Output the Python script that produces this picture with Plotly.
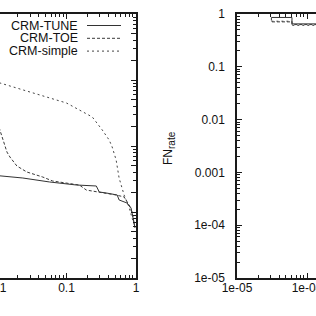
import plotly.graph_objects as go

# ---------------- data ----------------
tune_x = [0.00572, 0.01104, 0.02352, 0.05719, 0.139, 0.2683, 0.296, 0.3728, 0.5356, 0.5715, 0.7434, 0.8484, 0.9061, 0.936, 0.9676]
tune_y = [0.003767, 0.003512, 0.003273, 0.002849, 0.002564, 0.002478, 0.002010, 0.001941, 0.001811, 0.001521, 0.001368, 0.001150, 0.000811, 0.000680, 0.000573]

toe_x = [0.00968, 0.01104, 0.01218, 0.0139, 0.01534, 0.0193, 0.0268, 0.0454, 0.0631, 0.1, 0.1534, 0.193, 0.296, 0.5179, 0.6742, 0.7943, 0.877, 0.936, 0.9676]
toe_y = [0.0266, 0.0175, 0.0123, 0.0081, 0.00681, 0.00498, 0.00404, 0.00339, 0.00295, 0.00275, 0.00256, 0.00215, 0.00201, 0.00181, 0.00169, 0.00128, 0.001, 0.00068, 0.000573]

simple_x = [0.00572, 0.01104, 0.03268, 0.1, 0.1534, 0.235, 0.3268, 0.4115, 0.454, 0.5179, 0.5715, 0.6742, 0.7943, 0.877, 0.9676]
simple_y = [0.111, 0.0901, 0.0636, 0.0448, 0.0351, 0.0275, 0.0175, 0.0123, 0.00966, 0.00614, 0.00327, 0.00181, 0.00119, 0.00081, 0.000614]

r_tune_x = [3.1e-5, 6.1e-5, 6.1e-5, 2e-4]
r_tune_y = [0.86, 0.86, 0.65, 0.65]
r_toe_x = [3.1e-5, 3.1e-5, 6.1e-5, 6.1e-5, 2e-4]
r_toe_y = [0.86, 0.71, 0.71, 0.63, 0.63]
r_simple_x = [3.1e-5, 6.1e-5, 6.1e-5, 2e-4]
r_simple_y = [0.73, 0.73, 0.61, 0.61]

series_names = ["CRM-TUNE", "CRM-TOE", "CRM-simple"]

left_x_ticks = [0.01, 0.1, 1]
left_x_labels = ["0.01", "0.1", "1"]
right_x_ticks = [1e-5, 1e-4, 1e-3]
right_x_labels = ["1e-05", "1e-04", "0.001"]
right_y_ticks = [1e-5, 1e-4, 1e-3, 1e-2, 1e-1, 1]
right_y_labels = ["1e-05", "1e-04", "0.001", "0.01", "0.1", "1"]

# ---------------- styling ----------------
W, H = 316, 316
MT, MB = 14, 38
FONT = "Liberation Sans, Arial, sans-serif"
AX_C = "#1a1a1a"
styles = {
    "CRM-TUNE": dict(color="#333333", width=1, dash="solid"),
    "CRM-TOE": dict(color="#3a3a3a", width=1, dash="3px,2px"),
    "CRM-simple": dict(color="#444444", width=1, dash="2px,3px"),
}
minor_vals = [m * 10.0 ** e for e in range(-7, 1) for m in range(2, 10)]

fig = go.Figure()
left = {"CRM-TUNE": (tune_x, tune_y), "CRM-TOE": (toe_x, toe_y), "CRM-simple": (simple_x, simple_y)}
right = {"CRM-TUNE": (r_tune_x, r_tune_y), "CRM-TOE": (r_toe_x, r_toe_y), "CRM-simple": (r_simple_x, r_simple_y)}
for n in series_names:
    fig.add_trace(go.Scatter(x=left[n][0], y=left[n][1], mode="lines", name=n,
                             line=styles[n], xaxis="x", yaxis="y", showlegend=False))
for n in series_names:
    fig.add_trace(go.Scatter(x=right[n][0], y=right[n][1], mode="lines", name=n,
                             line=styles[n], xaxis="x2", yaxis="y2", showlegend=False))

common = dict(type="log", showgrid=False, zeroline=False, showline=True, linecolor=AX_C,
              linewidth=1.5, ticks="inside", ticklen=5, tickcolor=AX_C, tickwidth=1,
              automargin=False, ticklabeloverflow="allow",
              minor=dict(tickmode="array", tickvals=minor_vals, ticks="inside", ticklen=3,
                         tickcolor=AX_C, tickwidth=1, showgrid=False),
              tickfont=dict(family=FONT, size=12, color="#111"))

fig.update_layout(
    width=W, height=H,
    margin=dict(l=0, r=0, t=MT, b=MB, pad=0),
    paper_bgcolor="white", plot_bgcolor="white",
    showlegend=False,
    font=dict(family=FONT, size=12, color="#111"),
    xaxis=dict(common, domain=[0, 136 / W], range=[-1.957, 0], anchor="y",
               tickmode="array", tickvals=left_x_ticks, ticktext=left_x_labels,
               mirror="allticks", ticklabelstandoff=-2),
    yaxis=dict(common, domain=[0, 1], range=[-4, 0], anchor="x", side="right",
               showticklabels=False),
    xaxis2=dict(common, domain=[237 / W, 1], range=[-5, -5 + 79 / 70], anchor="y2",
                tickmode="array", tickvals=right_x_ticks, ticktext=right_x_labels,
                mirror="allticks", ticklabelstandoff=-2),
    yaxis2=dict(common, domain=[0, 1], range=[-5, 0], anchor="x2", side="left",
                tickmode="array", tickvals=right_y_ticks, ticktext=right_y_labels,
                ticklabelstandoff=8),
)

plot_h = H - MT - MB

def py(p):
    return (H - MB - p) / plot_h

fig.add_annotation(x=-5 / W, y=py(288), xref="paper", yref="paper", text="0.01",
                   showarrow=False, xanchor="center", yanchor="middle",
                   font=dict(family=FONT, size=12, color="#111"))

fig.add_annotation(x=169 / W, y=py(148), xref="paper", yref="paper",
                   text="FN<sub><span style='font-size:10px'>rate</span></sub>",
                   textangle=-90, showarrow=False,
                   xanchor="center", yanchor="middle",
                   font=dict(family=FONT, size=12, color="#111"))

for i, n in enumerate(series_names):
    yy = py(25.5 + i * 12.8)
    fig.add_annotation(x=80 / W, y=yy, xref="paper", yref="paper", text=n,
                       showarrow=False, xanchor="right", yanchor="middle",
                       font=dict(family=FONT, size=12.5, color="#111"))
    fig.add_shape(type="line", xref="paper", yref="paper", x0=87 / W, x1=121 / W,
                  y0=yy, y1=yy, line=styles[n])

fig.write_html("out.html")
